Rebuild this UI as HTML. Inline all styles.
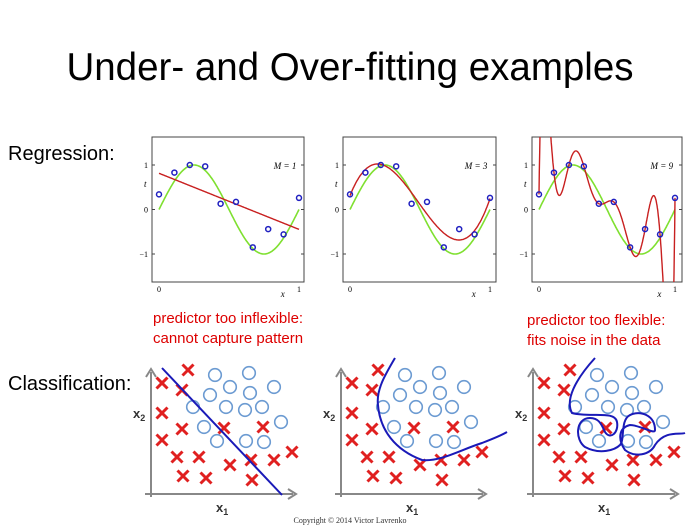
<!DOCTYPE html>
<html><head><meta charset="utf-8"><style>
body{margin:0;background:#fff;}
svg{display:block}
</style></head><body>
<svg id="s" width="700" height="525" xmlns="http://www.w3.org/2000/svg" font-family="Liberation Sans, sans-serif">
<text x="350" y="80" font-size="38.5" text-anchor="middle" fill="#000">Under- and Over-fitting examples</text>
<text x="8" y="160" font-size="20" fill="#000">Regression:</text>
<text x="8" y="390" font-size="20" fill="#000">Classification:</text>
<text x="153" y="323" font-size="15" fill="#d00">predictor too inflexible:</text>
<text x="153" y="343" font-size="15" fill="#d00">cannot capture pattern</text>
<text x="527" y="325" font-size="15" fill="#d00">predictor too flexible:</text>
<text x="527" y="345" font-size="15" fill="#d00">fits noise in the data</text>
<text x="350" y="523" font-size="8" text-anchor="middle" font-family="Liberation Serif, serif" fill="#333">Copyright © 2014 Victor Lavrenko</text>
<g id="g"></g>
</svg>
<script>
var g=document.getElementById('g'),h='';
var pts=[[0,0.34],[0.11,0.83],[0.22,1.0],[0.33,0.97],[0.44,0.13],[0.55,0.17],[0.67,-0.85],[0.78,-0.44],[0.89,-0.56],[1.0,0.26]];
function solve(A,b){var n=b.length;for(var i=0;i<n;i++){var m=i;for(var k=i+1;k<n;k++)if(Math.abs(A[k][i])>Math.abs(A[m][i]))m=k;var t=A[i];A[i]=A[m];A[m]=t;t=b[i];b[i]=b[m];b[m]=t;for(var k=i+1;k<n;k++){var f=A[k][i]/A[i][i];for(var j=i;j<n;j++)A[k][j]-=f*A[i][j];b[k]-=f*b[i];}}var x=[];for(var i=n-1;i>=0;i--){var s=b[i];for(var j=i+1;j<n;j++)s-=A[i][j]*x[j];x[i]=s/A[i][i];}return x;}
function fit(M){var n=M+1,A=[],b=[];for(var i=0;i<n;i++){A.push([]);b.push(0);for(var j=0;j<n;j++){var s=0;pts.forEach(function(p){s+=Math.pow(p[0],i+j)});A[i].push(s);}pts.forEach(function(p){b[i]+=p[1]*Math.pow(p[0],i)});}return solve(A,b);}
function lag(x){var s=0;for(var i=0;i<10;i++){var l=1;for(var j=0;j<10;j++)if(j!=i)l*=(x-pts[j][0])/(pts[i][0]-pts[j][0]);s+=l*pts[i][1];}return s;}
var panels=[{fl:152,fr:304,x0:159,x1:299,M:1},{fl:343,fr:496,x0:350,x1:490,M:3},{fl:532,fr:682,x0:539,x1:675,M:9}];
panels.forEach(function(P,k){
 var X=function(x){return P.x0+x*(P.x1-P.x0)},Y=function(t){return 209.5-t*44.5};
 var id='c'+k;
 h+='<clipPath id="'+id+'"><rect x="'+P.fl+'" y="137" width="'+(P.fr-P.fl)+'" height="145"/></clipPath>';
 h+='<rect x="'+P.fl+'" y="137" width="'+(P.fr-P.fl)+'" height="145" fill="none" stroke="#444" stroke-width="1"/>';
 [1,0,-1].forEach(function(t){h+='<line x1="'+P.fl+'" x2="'+(P.fl+3)+'" y1="'+Y(t)+'" y2="'+Y(t)+'" stroke="#444"/><line x1="'+P.fr+'" x2="'+(P.fr-3)+'" y1="'+Y(t)+'" y2="'+Y(t)+'" stroke="#444"/>';
  h+='<text x="'+(P.fl-4)+'" y="'+(Y(t)+3)+'" font-size="8" text-anchor="end" font-family="Liberation Serif,serif">'+(t==-1?'\u22121':t)+'</text>';});
 h+='<text x="'+(P.fl-8)+'" y="187" font-size="9" font-style="italic" font-family="Liberation Serif,serif">t</text>';
 h+='<text x="'+X(0)+'" y="292" font-size="8" text-anchor="middle" font-family="Liberation Serif,serif">0</text><text x="'+X(1)+'" y="292" font-size="8" text-anchor="middle" font-family="Liberation Serif,serif">1</text>';
 h+='<text x="'+(X(0.87))+'" y="297" font-size="9" font-style="italic" font-family="Liberation Serif,serif">x</text>';
 h+='<text x="'+(X(0.82))+'" y="169" font-size="9" font-style="italic" font-family="Liberation Serif,serif">M = '+P.M+'</text>';
 var d='';for(var i=0;i<=200;i++){var x=i/200;d+=(i?'L':'M')+X(x).toFixed(1)+','+Y(Math.sin(2*Math.PI*x)).toFixed(1);}
 h+='<path d="'+d+'" fill="none" stroke="#7fe030" stroke-width="1.6"/>';
 var f;if(P.M==9)f=lag;else{var c=fit(P.M);f=function(x){var s=0;for(var i=0;i<c.length;i++)s+=c[i]*Math.pow(x,i);return s;};}
 d='';for(var i=0;i<=400;i++){var x=i/400,t=Math.max(-4,Math.min(4,f(x)));d+=(i?'L':'M')+X(x).toFixed(1)+','+Y(t).toFixed(1);}
 h+='<path d="'+d+'" fill="none" stroke="#c82020" stroke-width="1.4" clip-path="url(#'+id+')"/>';
 pts.forEach(function(p){h+='<circle cx="'+X(p[0])+'" cy="'+Y(p[1])+'" r="2.5" fill="none" stroke="#2020c0" stroke-width="1.5"/>';});
});
var xs=[[188,370],[162,383],[182,390],[162,413],[182,429],[162,440],[224,428],[263,427],[177,457],[199,457],[230,465],[251,460],[274,460],[292,452],[183,476],[206,478],[252,480]];
var cs=[[215,375],[249,373],[230,387],[274,387],[210,395],[250,393],[193,407],[226,407],[245,410],[262,407],[204,427],[281,422],[217,441],[246,441],[264,442]];
var curves=['M162,368 L282,495',
'M395,358 C385,375 376,390 378,405 C380,430 395,450 422,460 C440,462 460,450 482,443 C495,438 502,435 507,432',
'M595,358 C575,380 565,400 572,413 C590,418 615,410 617,422 C619,433 610,440 605,432 C602,426 600,418 590,418 C575,418 575,440 585,447 C600,455 615,450 620,445 C625,440 620,420 630,415 C640,410 655,415 655,430 C655,435 640,425 630,425 C618,428 618,440 625,450 C635,458 650,455 655,445 C665,430 680,435 685,433'];
[0,190,382].forEach(function(o,k){
 h+='<g transform="translate('+o+',0)">';
 h+='<line x1="151" y1="497" x2="151" y2="372" stroke="#888" stroke-width="2"/><path d="M146,377 L151,369 L156,377" fill="none" stroke="#888" stroke-width="2"/>';
 h+='<line x1="145" y1="494" x2="293" y2="494" stroke="#888" stroke-width="2"/><path d="M288,489 L296,494 L288,499" fill="none" stroke="#888" stroke-width="2"/>';
 h+='<text x="133" y="418" font-size="13" font-weight="bold" fill="#333">x<tspan font-size="9" dy="3">2</tspan></text>';
 h+='<text x="216" y="512" font-size="13" font-weight="bold" fill="#333">x<tspan font-size="9" dy="3">1</tspan></text>';
 cs.forEach(function(c){h+='<circle cx="'+c[0]+'" cy="'+c[1]+'" r="6.3" fill="none" stroke="#6c9bd2" stroke-width="1.6"/>';});
 xs.forEach(function(c){h+='<path d="M'+(c[0]-5.5)+','+(c[1]-5.5)+'L'+(c[0]+5.5)+','+(c[1]+5.5)+'M'+(c[0]+5.5)+','+(c[1]-5.5)+'L'+(c[0]-5.5)+','+(c[1]+5.5)+'" stroke="#e02020" stroke-width="3"/>';});
 h+='</g>';
 h+='<path d="'+curves[k]+'" fill="none" stroke="#1a1ab8" stroke-width="2"/>';
});
g.innerHTML=h;
</script>
</body></html>
